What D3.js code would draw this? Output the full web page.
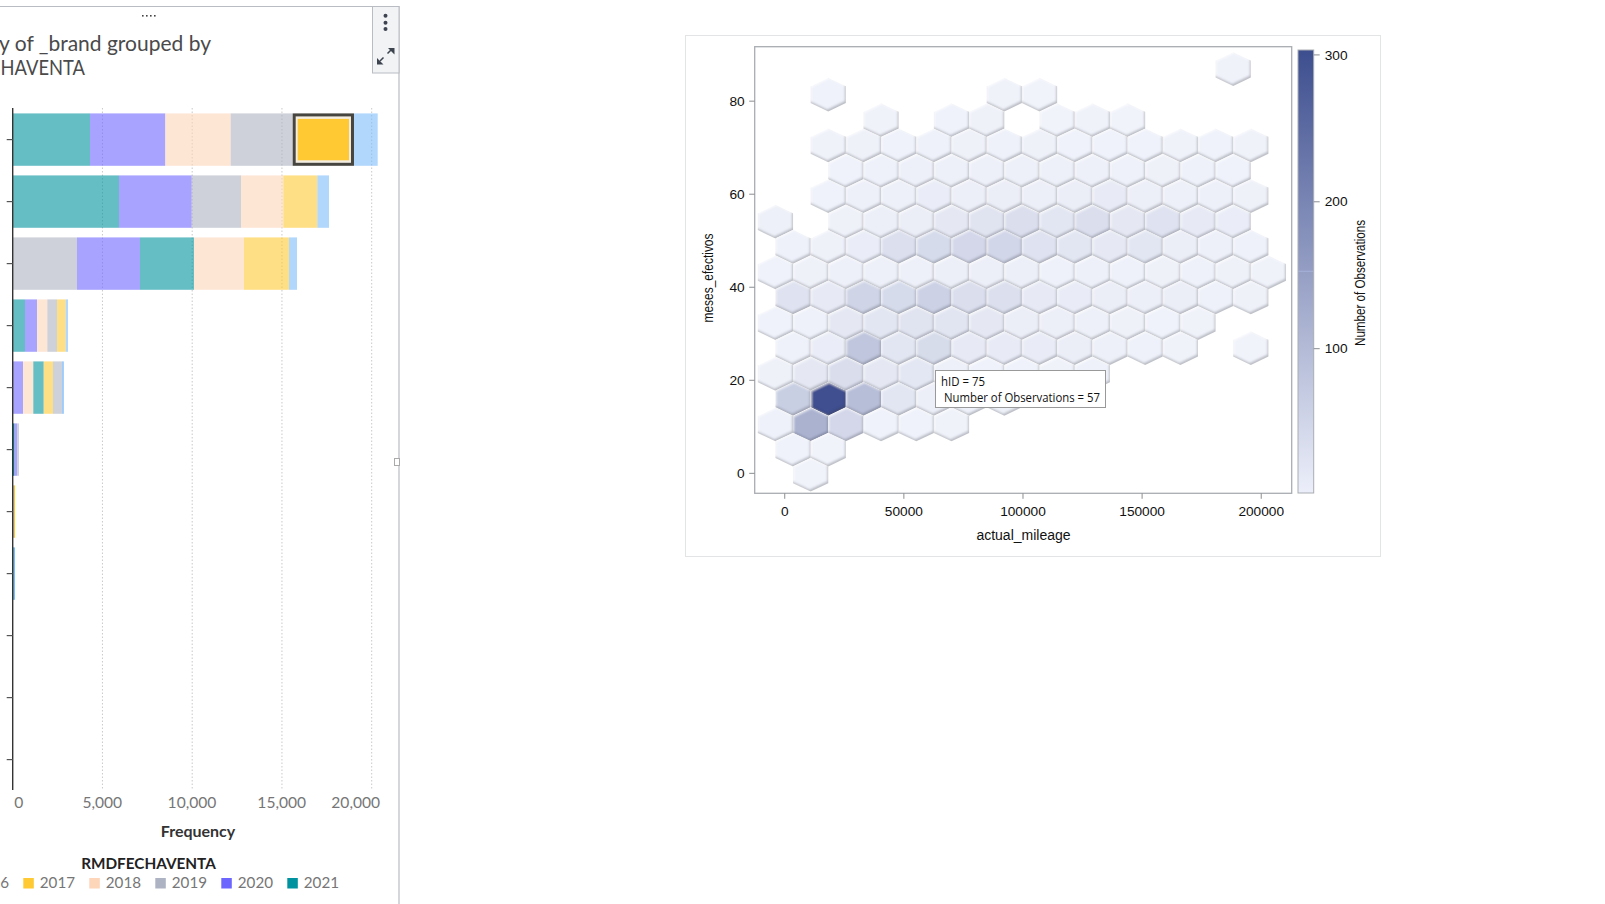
<!DOCTYPE html>
<html>
<head>
<meta charset="utf-8">
<script src="https://cdnjs.cloudflare.com/ajax/libs/d3/7.8.5/d3.min.js"></script>
<style>
  html, body { margin: 0; padding: 0; background: #fff; overflow: hidden; }
  svg { display: block; }
  .sas text { font-family: Lato, "Open Sans", sans-serif; }
  .ods text { font-family: "Liberation Sans", Arial, sans-serif; fill: #111; }
</style>
</head>
<body>
<svg id="chart" width="1605" height="904"></svg>
<script>
// ---- stacked bars (left panel), brands have their labels cut off in the source
const brands = ["b1", "b2", "b3", "b4", "b5", "b6", "b7", "b8", "b9", "b10", "b11"];
const barYears = [
  [2021, 2020, 2018, 2019, 2017, 2016],
  [2021, 2020, 2019, 2018, 2017, 2016],
  [2019, 2020, 2021, 2018, 2017, 2016],
  [2021, 2020, 2018, 2019, 2017, 2016],
  [2020, 2018, 2021, 2017, 2019, 2016],
  [2021, 2020, 2019],
  [2019, 2017],
  [2021, 2016],
  [], [], []
];
const barValues = [
  [4306, 4195, 3643, 3454, 3415, 1320],
  [5922, 4050, 2747, 2357, 1894, 652],
  [3582, 3510, 3008, 2786, 2507, 446],
  [685, 669, 574, 540, 485, 128],
  [574, 574, 579, 518, 518, 78],
  [89, 150, 111],
  [60, 70],
  [50, 80],
  [], [], []
];
const legendYears = [2017, 2018, 2019, 2020, 2021];
const freqTicks = [0, 5000, 10000, 15000, 20000];
const yearColor = { 2016: "#7dbdfa", 2017: "#ffc933", 2018: "#fdd5b9", 2019: "#adb3c2", 2020: "#6c66ff", 2021: "#00929f" };

// ---- hexbin (right panel), one entry per row of hexagons, top to bottom
const hexMonths = [86.8, 81.3, 75.8, 70.4, 64.9, 59.5, 54.0, 48.6, 43.1, 37.7, 32.2, 26.8, 21.3, 15.9, 10.4, 5.0, -0.4];
const hexColumns = [
  [23],
  [0, 10, 12],
  [3, 7, 9, 13, 15, 17],
  [0, 2, 4, 6, 8, 10, 12, 14, 16, 18, 20, 22, 24],
  [1, 3, 5, 7, 9, 11, 13, 15, 17, 19, 21, 23],
  [0, 2, 4, 6, 8, 10, 12, 14, 16, 18, 20, 22, 24],
  [-3, 1, 3, 5, 7, 9, 11, 13, 15, 17, 19, 21, 23],
  [-2, 0, 2, 4, 6, 8, 10, 12, 14, 16, 18, 20, 22, 24],
  [-3, -1, 1, 3, 5, 7, 9, 11, 13, 15, 17, 19, 21, 23, 25],
  [-2, 0, 2, 4, 6, 8, 10, 12, 14, 16, 18, 20, 22, 24],
  [-3, -1, 1, 3, 5, 7, 9, 11, 13, 15, 17, 19, 21],
  [-2, 0, 2, 4, 6, 8, 10, 12, 14, 16, 18, 20, 24],
  [-3, -1, 1, 3, 5, 7, 9, 11, 13, 15],
  [-2, 0, 2, 4, 6, 8, 10],
  [-3, -1, 1, 3, 5, 7],
  [-2, 0],
  [-1]
];
const hexCounts = [
  [5],
  [6, 5, 4],
  [5, 6, 7, 4, 5, 4],
  [5, 7, 6, 8, 7, 8, 7, 6, 6, 6, 5, 6, 5],
  [6, 8, 9, 10, 9, 10, 10, 9, 8, 7, 8, 6],
  [6, 9, 10, 15, 12, 14, 12, 14, 19, 12, 10, 9, 7],
  [10, 7, 11, 14, 24, 32, 42, 28, 42, 24, 34, 20, 15],
  [8, 7, 15, 40, 48, 54, 56, 34, 28, 22, 28, 14, 9, 8],
  [6, 7, 9, 10, 9, 11, 12, 11, 8, 9, 8, 7, 8, 7, 5],
  [34, 20, 60, 48, 65, 42, 38, 20, 17, 14, 12, 14, 8, 7],
  [6, 8, 24, 28, 32, 30, 24, 14, 12, 10, 7, 6, 5],
  [8, 15, 85, 28, 46, 20, 18, 16, 14, 10, 8, 5, 4],
  [7, 24, 44, 24, 26, 10, 6, 6, 5, 8],
  [70, 300, 100, 28, 12, 8, 7],
  [8, 122, 54, 6, 6, 5],
  [6, 4],
  [3]
];
const mileageTicks = [0, 50000, 100000, 150000, 200000];
const monthTicks = [0, 20, 40, 60, 80];
const countTicks = [100, 200, 300];

const svg = d3.select("#chart");

// left panel --------------------------------------------------------------
const left = svg.append("g").attr("class", "sas");
left.append("path").attr("d", "M0,6.5H399V904").attr("fill", "none").attr("stroke", "#b9bcc2").attr("stroke-width", 1.2);
left.append("rect").attr("x", 372.5).attr("y", 6.5).attr("width", 26.5).attr("height", 66.5)
  .attr("fill", "#f2f3f5").attr("stroke", "#b9bcc2");
[15.7, 22.7, 29].forEach(function(cy) {
  left.append("circle").attr("cx", 385.5).attr("cy", cy).attr("r", 2).attr("fill", "#3d4450");
});
left.append("path").attr("d", "M380,61L383.5,57.5M387.5,53.5L391,50")
  .attr("fill", "none").attr("stroke", "#3d4450").attr("stroke-width", 1.5);
left.append("path").attr("d", "M377,64.5V58L383.5,64.5ZM394.5,48V54.5L388,48Z").attr("fill", "#3d4450");
[142, 146, 150, 154].forEach(function(cx) {
  left.append("rect").attr("x", cx).attr("y", 15).attr("width", 1.6).attr("height", 1.6).attr("fill", "#444");
});
left.append("rect").attr("x", 394.5).attr("y", 458.5).attr("width", 5).attr("height", 7)
  .attr("fill", "#fff").attr("stroke", "#aaa");

left.append("text").attr("x", 211).attr("y", 50.5).attr("text-anchor", "end")
  .attr("font-size", 21).attr("fill", "#4a4a4a").text("y of _brand grouped by");
left.append("text").attr("x", 0.5).attr("y", 74.5)
  .attr("font-size", 21).attr("textLength", 84.5).attr("lengthAdjust", "spacingAndGlyphs").attr("fill", "#4a4a4a").text("HAVENTA");

const xFreq = d3.scaleLinear().domain([0, 20000]).range([12.7, 371.7]);
const yBrand = d3.scaleBand().domain(brands).range([108.6, 790.6]).paddingInner(0.155).paddingOuter(0.0775);

left.append("g").selectAll("line").data(freqTicks.slice(1)).join("line")
  .attr("x1", function(d) { return xFreq(d); }).attr("x2", function(d) { return xFreq(d); })
  .attr("y1", 108).attr("y2", 790)
  .attr("stroke", "#c9c9c9").attr("stroke-dasharray", "1.5 2");

const barRows = left.append("g").selectAll("g").data(brands).join("g");
barRows.each(function(b, i) {
  let sum = 0;
  const segs = barYears[i].map(function(year, j) {
    const seg = { year: year, x0: sum, x1: sum + barValues[i][j] };
    sum = seg.x1;
    return seg;
  });
  d3.select(this).selectAll("rect").data(segs).join("rect")
    .attr("x", function(d) { return xFreq(d.x0); })
    .attr("width", function(d) { return xFreq(d.x1) - xFreq(d.x0); })
    .attr("y", yBrand(b))
    .attr("height", yBrand.bandwidth())
    .attr("fill", function(d) { return yearColor[d.year]; })
    .attr("fill-opacity", function(d) {
      if (d.year === 2017 && i === 0) return 0;
      // slivers antialias away if they are faded too
      return xFreq(d.x1) - xFreq(d.x0) < 1.9 ? 1 : 0.6;
    });
  // the selected segment keeps its full colour
  segs.filter(function(d) { return d.year === 2017 && i === 0; }).forEach(function(d) {
    const x = xFreq(d.x0), w = xFreq(d.x1) - xFreq(d.x0), y = yBrand(b), h = yBrand.bandwidth();
    d3.select(barRows.nodes()[i]).append("rect")
      .attr("x", x + 1.5).attr("y", y + 1.5).attr("width", w - 3).attr("height", h - 3)
      .attr("fill", "#f3ece0").attr("stroke", "#474540").attr("stroke-width", 3);
    d3.select(barRows.nodes()[i]).append("rect")
      .attr("x", x + 5).attr("y", y + 5.5).attr("width", w - 10).attr("height", h - 11)
      .attr("fill", yearColor[d.year]);
  });
});

const brandAxis = left.append("g").attr("transform", "translate(12.7,0)")
  .call(d3.axisLeft(yBrand).tickSize(6).tickFormat(""));
brandAxis.select(".domain").attr("d", "M0,108V790").attr("stroke", "#333").attr("stroke-width", 1.4);
brandAxis.selectAll(".tick line").attr("stroke", "#555").attr("stroke-width", 1.2);

const freqAxis = left.append("g").attr("transform", "translate(0,808)")
  .call(d3.axisBottom(xFreq).tickValues(freqTicks).tickSize(0).tickFormat(d3.format(",")));
freqAxis.select(".domain").remove();
freqAxis.selectAll("text").attr("y", 0).attr("dy", 0).attr("font-size", 15.6).attr("fill", "#767676")
  .style("font-family", "Lato")
  // end labels are pushed inwards to stay in the panel
  .attr("dx", function(d) { return d === 0 ? 5.5 : d === 20000 ? -16.5 : -0.7; });

left.append("text").attr("x", 198).attr("y", 837).attr("text-anchor", "middle")
  .attr("font-size", 16).attr("font-weight", 700).attr("fill", "#333").text("Frequency");
left.append("text").attr("x", 148.5).attr("y", 869).attr("text-anchor", "middle")
  .attr("font-size", 15.3).attr("font-weight", 700).attr("fill", "#222").text("RMDFECHAVENTA");

left.append("text").attr("x", 9).attr("y", 888).attr("text-anchor", "end").attr("font-size", 15.2).attr("fill", "#767676").text("6");
const legendX = d3.scalePoint().domain(legendYears).range([23.3, 287.3]);
const legendItems = left.append("g").selectAll("g").data(legendYears).join("g")
  .attr("transform", function(d) { return "translate(" + legendX(d) + ",878)"; });
legendItems.append("rect").attr("width", 10.5).attr("height", 10.5)
  .attr("fill", function(d) { return yearColor[d]; });
legendItems.append("text").attr("x", 16.5).attr("y", 10).attr("font-size", 15.2).attr("fill", "#767676")
  .text(function(d) { return d; });

// right panel -------------------------------------------------------------
const defs = svg.append("defs");
// bevel on every hexagon: light from the top left, dark at the bottom right
const bevel = defs.append("filter").attr("id", "bevel").attr("x", "-10%").attr("y", "-10%").attr("width", "120%").attr("height", "120%");
bevel.append("feComponentTransfer").attr("in", "SourceAlpha").attr("result", "inv")
  .append("feFuncA").attr("type", "table").attr("tableValues", "1 0");
bevel.append("feGaussianBlur").attr("in", "inv").attr("stdDeviation", 1.2).attr("result", "blur");
bevel.append("feOffset").attr("in", "blur").attr("dx", -1.5).attr("dy", -1.7).attr("result", "darkOff");
bevel.append("feFlood").attr("flood-color", "#3c4050").attr("flood-opacity", 0.45);
bevel.append("feComposite").attr("in2", "darkOff").attr("operator", "in").attr("result", "dark");
bevel.append("feGaussianBlur").attr("in", "inv").attr("stdDeviation", 0.9).attr("result", "soft");
bevel.append("feOffset").attr("in", "soft").attr("dx", 0.7).attr("dy", 0.9).attr("result", "lightOff");
bevel.append("feFlood").attr("flood-color", "#ffffff").attr("flood-opacity", 0.7);
bevel.append("feComposite").attr("in2", "lightOff").attr("operator", "in").attr("result", "light");
const merge = bevel.append("feMerge").attr("result", "edges");
merge.append("feMergeNode").attr("in", "SourceGraphic");
merge.append("feMergeNode").attr("in", "light");
merge.append("feMergeNode").attr("in", "dark");
bevel.append("feComposite").attr("in", "edges").attr("in2", "SourceAlpha").attr("operator", "in");

const barGrad = defs.append("linearGradient").attr("id", "countGrad").attr("x1", 0).attr("x2", 0).attr("y1", 1).attr("y2", 0);

const right = svg.append("g").attr("class", "ods");
right.append("rect").attr("x", 685.5).attr("y", 35.5).attr("width", 695).attr("height", 521)
  .attr("fill", "#fff").attr("stroke", "#e3e4e6");

const xMile = d3.scaleLinear().domain([-12400, 213000]).range([754.7, 1291.7]);
const yMonth = d3.scaleLinear().domain([-4.4, 91.6]).range([493.3, 46.7]);
const colorCount = d3.scaleLinear().domain([0, 300]).range(["#f3f5fc", "#3f5090"]);
const colorBar = d3.scaleLinear().domain([0, 300]).range(["#edf0fa", "#3f5090"]);

right.append("rect").attr("x", 754.7).attr("y", 46.7).attr("width", 537).attr("height", 446.6)
  .attr("fill", "#fff");

// hexagon cell size, in data units
const binMiles = 14780, binMonths = 5.45, mileAtZero = 18470;
const hexData = [];
hexMonths.forEach(function(m, r) {
  hexColumns[r].forEach(function(c, j) {
    hexData.push({ mileage: mileAtZero + c * binMiles / 2, months: m, count: hexCounts[r][j] });
  });
});
function hexPath(d) {
  const cx = xMile(d.mileage), cy = yMonth(d.months);
  const hw = xMile(binMiles) - xMile(0), rh = yMonth(0) - yMonth(binMonths);
  const pts = [[0, -2 / 3], [0.5, -1 / 3], [0.5, 1 / 3], [0, 2 / 3], [-0.5, 1 / 3], [-0.5, -1 / 3]];
  return d3.line()(pts.map(function(p) { return [cx + p[0] * hw, cy + p[1] * rh]; })) + "Z";
}
right.append("g").selectAll("path").data(hexData).join("path")
  .attr("d", hexPath)
  .attr("fill", function(d) { return colorCount(d.count); })
  .attr("filter", "url(#bevel)");

right.append("rect").attr("x", 754.7).attr("y", 46.7).attr("width", 537).attr("height", 446.6)
  .attr("fill", "none").attr("stroke", "#a9adb2").attr("stroke-width", 1.3);

const mileAxis = right.append("g").attr("transform", "translate(0,493.3)")
  .call(d3.axisBottom(xMile).tickValues(mileageTicks).tickSize(5.5).tickFormat(d3.format("d")));
mileAxis.select(".domain").remove();
mileAxis.selectAll("line").attr("stroke", "#8a8d91");
mileAxis.selectAll("text").attr("y", 18).attr("dy", "0.32em").attr("font-size", 13.7).style("font-family", "Liberation Sans");

const monthAxis = right.append("g").attr("transform", "translate(754.7,0)")
  .call(d3.axisLeft(yMonth).tickValues(monthTicks).tickSize(5.5));
monthAxis.select(".domain").remove();
monthAxis.selectAll("line").attr("stroke", "#8a8d91");
monthAxis.selectAll("text").attr("x", -10).attr("font-size", 13.7).style("font-family", "Liberation Sans");

right.append("text").attr("x", 1023.5).attr("y", 540).attr("text-anchor", "middle").attr("font-size", 14).text("actual_mileage");
right.append("text").attr("transform", "translate(712.5,278) rotate(-90)").attr("text-anchor", "middle")
  .attr("font-size", 14).attr("textLength", 89).attr("lengthAdjust", "spacingAndGlyphs").text("meses_efectivos");

// colour bar, with the thin light seam the renderer leaves around 152
const yCount = d3.scaleLinear().domain([1.4, 303]).range([493, 50]);
const gradStops = [1.4, 151.8, 152.4, 153, 303];
gradStops.forEach(function(v) {
  barGrad.append("stop").attr("offset", (v - 1.4) / (303 - 1.4))
    .attr("stop-color", v === 152.4 ? d3.color(colorBar(v)).brighter(0.35) : colorBar(v));
});
right.append("rect").attr("x", 1298).attr("y", yCount(303)).attr("width", 15.7).attr("height", yCount(1.4) - yCount(303))
  .attr("fill", "url(#countGrad)").attr("stroke", "#a9adb2");
const countAxis = right.append("g").attr("transform", "translate(1313.7,0)")
  .call(d3.axisRight(yCount).tickValues(countTicks).tickSize(6));
countAxis.select(".domain").remove();
countAxis.selectAll("line").attr("stroke", "#8a8d91");
countAxis.selectAll("text").attr("x", 11).attr("dy", "0.34em").attr("font-size", 13.7).style("font-family", "Liberation Sans");
right.append("text").attr("transform", "translate(1365,283) rotate(-90)").attr("text-anchor", "middle")
  .attr("font-size", 14).attr("textLength", 126).attr("lengthAdjust", "spacingAndGlyphs").text("Number of Observations");

// tooltip left open in the screenshot
right.append("rect").attr("x", 935.5).attr("y", 370.5).attr("width", 170).attr("height", 37)
  .attr("fill", "#fff").attr("stroke", "#999");
right.append("text").attr("x", 941).attr("y", 386).attr("font-size", 12).attr("textLength", 44).attr("lengthAdjust", "spacingAndGlyphs").style("font-family", "Open Sans").text("hID = 75");
right.append("text").attr("x", 944).attr("y", 402).attr("font-size", 12).style("font-family", "Open Sans")
  .attr("textLength", 156).attr("lengthAdjust", "spacingAndGlyphs").text("Number of Observations = 57");
</script>
</body>
</html>
